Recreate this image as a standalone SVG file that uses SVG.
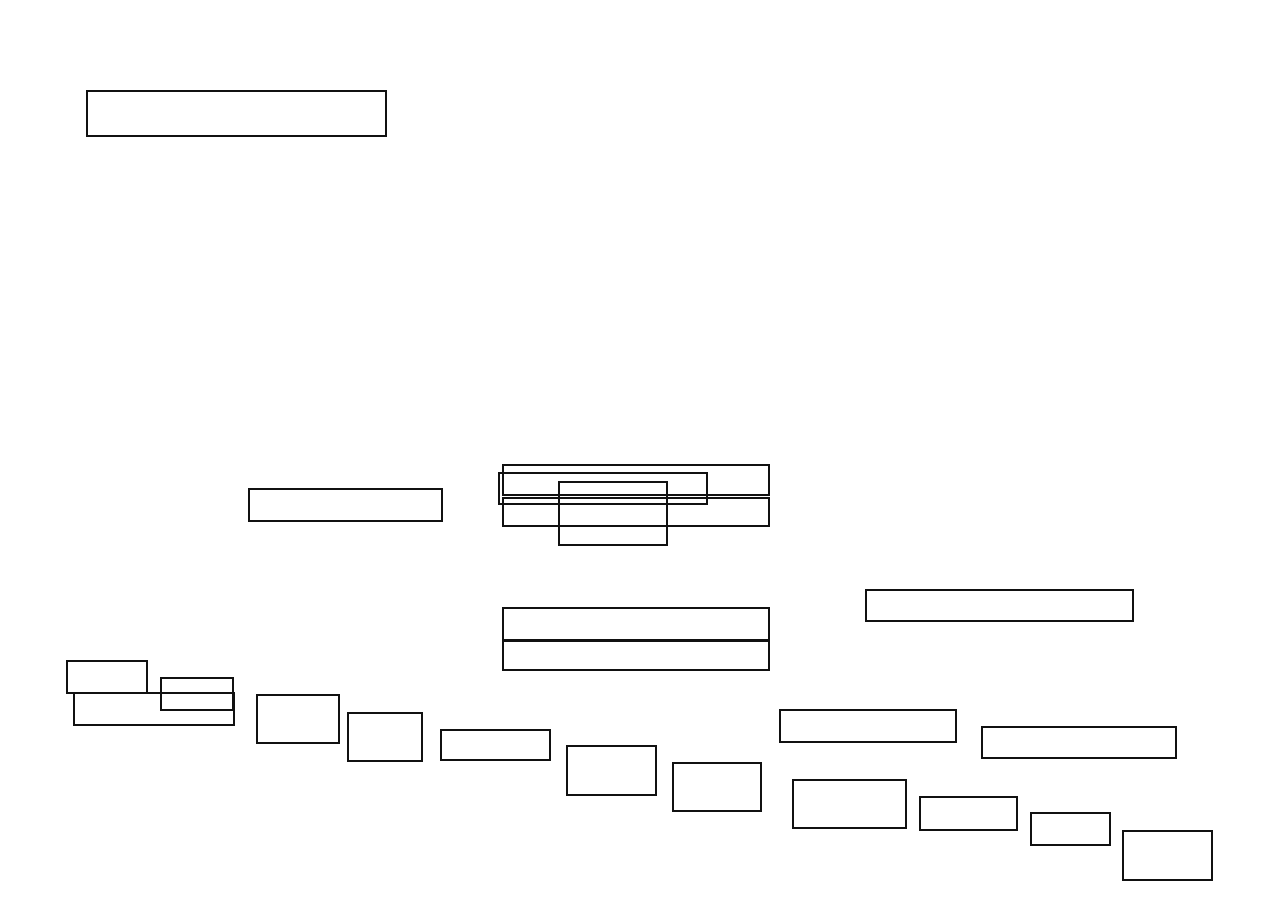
<svg xmlns="http://www.w3.org/2000/svg" width="1280" height="905" viewBox="0 0 1280 905">
<style>
.box{fill:none;stroke:#111;stroke-width:2}
</style>
<rect x="0" y="0" width="1280" height="905" fill="#fff"/>
<g id="connectors"></g>
<g id="n1"><rect class="box" x="87" y="91" width="299" height="45"/></g>
<g id="n2"><rect class="box" x="249" y="489" width="193" height="32"/></g>
<g id="n3"><rect class="box" x="503" y="465" width="266" height="30"/></g>
<g id="n4"><rect class="box" x="499" y="473" width="208" height="31"/></g>
<g id="n5"><rect class="box" x="559" y="482" width="108" height="63"/></g>
<g id="n6"><rect class="box" x="503" y="498" width="266" height="28"/></g>
<g id="n7"><rect class="box" x="866" y="590" width="267" height="31"/></g>
<g id="n8"><rect class="box" x="503" y="608" width="266" height="32"/></g>
<g id="n9"><rect class="box" x="503" y="641" width="266" height="29"/></g>
<g id="n10"><rect class="box" x="67" y="661" width="80" height="32"/></g>
<g id="n11"><rect class="box" x="161" y="678" width="72" height="32"/></g>
<g id="n12"><rect class="box" x="74" y="693" width="160" height="32"/></g>
<g id="n13"><rect class="box" x="257" y="695" width="82" height="48"/></g>
<g id="n14"><rect class="box" x="348" y="713" width="74" height="48"/></g>
<g id="n15"><rect class="box" x="441" y="730" width="109" height="30"/></g>
<g id="n16"><rect class="box" x="567" y="746" width="89" height="49"/></g>
<g id="n17"><rect class="box" x="673" y="763" width="88" height="48"/></g>
<g id="n18"><rect class="box" x="780" y="710" width="176" height="32"/></g>
<g id="n19"><rect class="box" x="982" y="727" width="194" height="31"/></g>
<g id="n20"><rect class="box" x="793" y="780" width="113" height="48"/></g>
<g id="n21"><rect class="box" x="920" y="797" width="97" height="33"/></g>
<g id="n22"><rect class="box" x="1031" y="813" width="79" height="32"/></g>
<g id="n23"><rect class="box" x="1123" y="831" width="89" height="49"/></g>
</svg>
